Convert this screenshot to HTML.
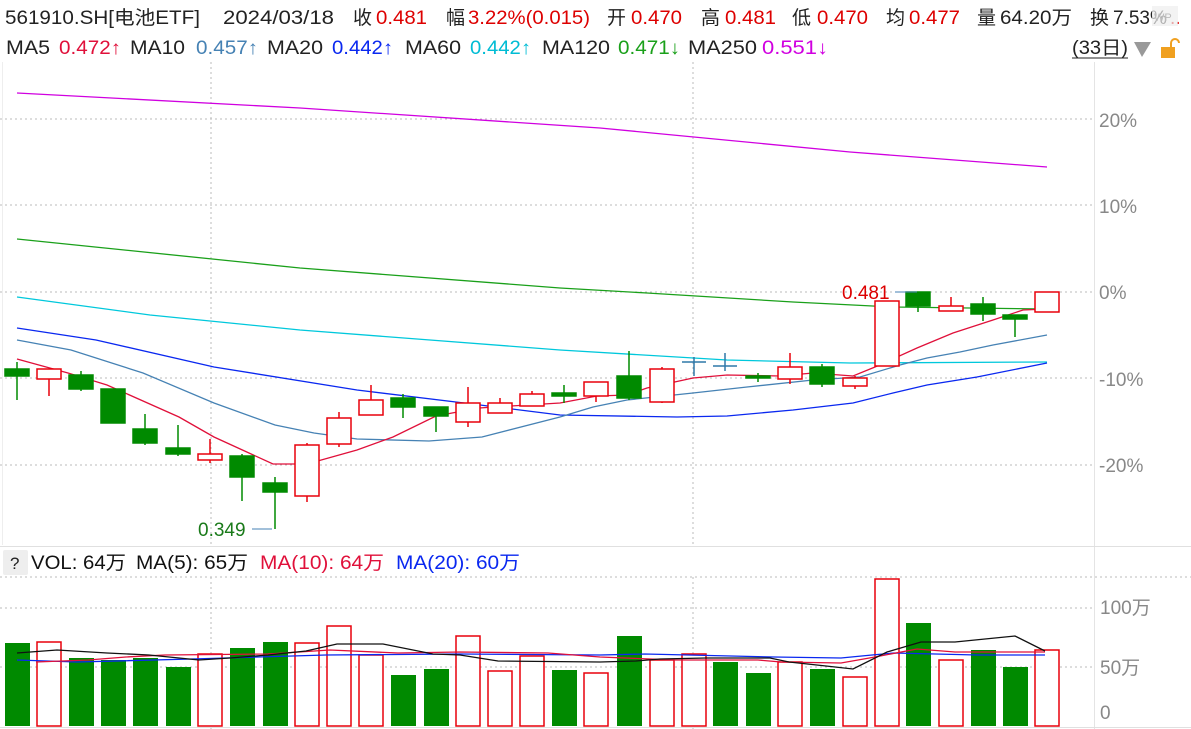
<!DOCTYPE html>
<html><head><meta charset="utf-8"><style>
body{margin:0;background:#fff;width:1191px;height:729px;overflow:hidden}
svg{display:block;font-family:"Liberation Sans","Noto Sans CJK SC",sans-serif}
</style></head><body>
<svg width="1191" height="729" xmlns="http://www.w3.org/2000/svg">
<g font-size="19" fill="#222">
<text x="5" y="24" textLength="195" lengthAdjust="spacingAndGlyphs">561910.SH[电池ETF]</text>
<text x="223" y="24" textLength="111" lengthAdjust="spacingAndGlyphs">2024/03/18</text>
<text x="353" y="24">收</text><text x="376" y="24" fill="#d00" textLength="51" lengthAdjust="spacingAndGlyphs">0.481</text>
<text x="446" y="24">幅</text><text x="468" y="24" fill="#d00" textLength="122" lengthAdjust="spacingAndGlyphs">3.22%(0.015)</text>
<text x="607" y="24">开</text><text x="631" y="24" fill="#d00" textLength="51" lengthAdjust="spacingAndGlyphs">0.470</text>
<text x="701" y="24">高</text><text x="725" y="24" fill="#d00" textLength="51" lengthAdjust="spacingAndGlyphs">0.481</text>
<text x="792" y="24">低</text><text x="817" y="24" fill="#d00" textLength="51" lengthAdjust="spacingAndGlyphs">0.470</text>
<text x="886" y="24">均</text><text x="909" y="24" fill="#d00" textLength="51" lengthAdjust="spacingAndGlyphs">0.477</text>
<text x="977" y="24">量</text><text x="1000" y="24" textLength="72" lengthAdjust="spacingAndGlyphs">64.20万</text>
<text x="1090" y="24">换</text><text x="1113" y="24">7.53%</text><text x="1170" y="24" fill="#d00">..</text>

<text x="6" y="54" textLength="44" lengthAdjust="spacingAndGlyphs">MA5</text>
<text x="59" y="54" fill="#e0103a" textLength="62" lengthAdjust="spacingAndGlyphs">0.472↑</text>
<text x="130" y="54" textLength="55" lengthAdjust="spacingAndGlyphs">MA10</text>
<text x="196" y="54" fill="#4682b4" textLength="62" lengthAdjust="spacingAndGlyphs">0.457↑</text>
<text x="267" y="54" textLength="56" lengthAdjust="spacingAndGlyphs">MA20</text>
<text x="332" y="54" fill="#0a28f0" textLength="61" lengthAdjust="spacingAndGlyphs">0.442↑</text>
<text x="405" y="54" textLength="56" lengthAdjust="spacingAndGlyphs">MA60</text>
<text x="470" y="54" fill="#00bcd4" textLength="61" lengthAdjust="spacingAndGlyphs">0.442↑</text>
<text x="542" y="54" textLength="68" lengthAdjust="spacingAndGlyphs">MA120</text>
<text x="618" y="54" fill="#1aa01a" textLength="62" lengthAdjust="spacingAndGlyphs">0.471↓</text>
<text x="688" y="54" textLength="69" lengthAdjust="spacingAndGlyphs">MA250</text>
<text x="762" y="54" fill="#d000e0" textLength="66" lengthAdjust="spacingAndGlyphs">0.551↓</text>
<text x="1072" y="54" textLength="56" lengthAdjust="spacingAndGlyphs">(33日)</text>
</g>
<line x1="1072" y1="58" x2="1128" y2="58" stroke="#222"/>
<polygon points="1134,42 1151,42 1142,57" fill="#999"/>
<rect x="1161" y="47" width="14" height="11" fill="#f0a020"/>
<path d="M1171 47 v-4 a4 4 0 0 1 8 0" fill="none" stroke="#f0a020" stroke-width="2"/>
<rect x="1152" y="6" width="26" height="20" fill="#eee" opacity="0.7"/>
<text x="1154" y="21" font-size="11" fill="#bbb">WP</text>

<!-- grid -->
<g stroke="#bbb" stroke-dasharray="2,3" stroke-width="1">
<line x1="0" y1="119" x2="1094" y2="119"/><line x1="0" y1="205" x2="1094" y2="205"/>
<line x1="0" y1="292" x2="1094" y2="292"/><line x1="0" y1="378" x2="1094" y2="378"/>
<line x1="0" y1="465" x2="1094" y2="465"/>
<line x1="211" y1="62" x2="211" y2="545"/><line x1="693" y1="62" x2="693" y2="545"/>
<line x1="0" y1="608" x2="1094" y2="608"/><line x1="0" y1="667" x2="1094" y2="667"/>
<line x1="211" y1="577" x2="211" y2="729"/><line x1="693" y1="577" x2="693" y2="729"/>
<line x1="0" y1="577" x2="1191" y2="577"/>
</g>
<line x1="1094.5" y1="62" x2="1094.5" y2="729" stroke="#e4e4e4"/>
<line x1="2.5" y1="62" x2="2.5" y2="545" stroke="#eee"/>
<line x1="0" y1="546.5" x2="1191" y2="546.5" stroke="#e0e0e0"/>
<line x1="0" y1="727.5" x2="1191" y2="727.5" stroke="#e0e0e0"/>
<g font-size="19" fill="#888">
<text x="1099" y="127">20%</text><text x="1099" y="213">10%</text><text x="1099" y="299">0%</text>
<text x="1099" y="386">-10%</text><text x="1099" y="472">-20%</text>
<text x="1100" y="614">100万</text><text x="1100" y="674">50万</text><text x="1100" y="719">0</text>
</g>

<!-- MA lines -->
<g fill="none" stroke-width="1.3">
<polyline stroke="#d000e0" points="17,93 300,108 600,128 850,152 1047,167"/>
<polyline stroke="#1aa01a" points="17,239 300,268 560,288 647,293 793,302 893,307 1047,309"/>
<polyline stroke="#00c8dc" points="17,297 150,315 300,330 430,340 560,350 727,360 850,363 1047,362"/>
<polyline stroke="#0a28f0" points="17,328 96,340 214,367 357,390 464,403 560,415 677,417 727,416 793,410 853,403 893,393 927,385 977,377 1047,363"/>
<polyline stroke="#4682b4" points="17,340 71,350 143,373 214,403 275,425 314,433 357,439 429,441 482,437 560,417 593,407 627,400 693,393 747,387 813,380 860,377 900,365 927,358 960,352 993,345 1047,335"/>
<polyline stroke="#e0103a" points="17,359 68,373 107,385 179,417 214,437 273,464 307,464 357,450 393,437 436,416 479,408 511,406 560,403 597,396 627,395 647,388 693,378 727,375 780,376 813,373 853,376 875,367 917,348 953,333 993,320 1023,310 1047,309"/>
</g>

<!-- candles -->
<g stroke-width="1.5">
<g stroke="#008a00" fill="#008a00">
<line x1="17" y1="362" x2="17" y2="400"/><rect x="5" y="369" width="24" height="7"/>
<line x1="81" y1="371" x2="81" y2="391"/><rect x="69" y="375" width="24" height="14"/>
<rect x="101" y="389" width="24" height="34"/>
<line x1="145" y1="414" x2="145" y2="445"/><rect x="133" y="429" width="24" height="14"/>
<line x1="178" y1="425" x2="178" y2="456"/><rect x="166" y="448" width="24" height="6"/>
<line x1="242" y1="454" x2="242" y2="501"/><rect x="230" y="456" width="24" height="21"/>
<line x1="275" y1="477" x2="275" y2="529"/><rect x="263" y="483" width="24" height="9"/>
<line x1="403" y1="394" x2="403" y2="418"/><rect x="391" y="398" width="24" height="9"/>
<line x1="436" y1="407" x2="436" y2="432"/><rect x="424" y="407" width="24" height="9"/>
<line x1="564" y1="385" x2="564" y2="403"/><rect x="552" y="393" width="24" height="3"/>
<line x1="629" y1="351" x2="629" y2="400"/><rect x="617" y="376" width="24" height="22"/>
<line x1="758" y1="373" x2="758" y2="382"/><rect x="746" y="376" width="24" height="2"/>
<line x1="822" y1="364" x2="822" y2="387"/><rect x="810" y="367" width="24" height="17"/>
<line x1="918" y1="292" x2="918" y2="312"/><rect x="906" y="292" width="24" height="14"/>
<line x1="983" y1="297" x2="983" y2="321"/><rect x="971" y="304" width="24" height="10"/>
<line x1="1015" y1="315" x2="1015" y2="337"/><rect x="1003" y="315" width="24" height="4"/>
</g>
<g stroke="#e8000b" fill="#fff">
<line x1="49" y1="379" x2="49" y2="396"/><rect x="37" y="369" width="24" height="10"/>
<line x1="210" y1="439" x2="210" y2="463"/><rect x="198" y="454" width="24" height="6"/>
<line x1="307" y1="443" x2="307" y2="502"/><rect x="295" y="445" width="24" height="51"/>
<line x1="339" y1="412" x2="339" y2="447"/><rect x="327" y="418" width="24" height="26"/>
<line x1="371" y1="385" x2="371" y2="400"/><rect x="359" y="400" width="24" height="15"/>
<line x1="468" y1="387" x2="468" y2="427"/><rect x="456" y="403" width="24" height="19"/>
<line x1="500" y1="398" x2="500" y2="413"/><rect x="488" y="403" width="24" height="10"/>
<line x1="532" y1="391" x2="532" y2="406"/><rect x="520" y="394" width="24" height="12"/>
<line x1="596" y1="396" x2="596" y2="402"/><rect x="584" y="382" width="24" height="14"/>
<line x1="662" y1="367" x2="662" y2="403"/><rect x="650" y="369" width="24" height="33"/>
<line x1="790" y1="353" x2="790" y2="384"/><rect x="778" y="367" width="24" height="12"/>
<line x1="855" y1="376" x2="855" y2="389"/><rect x="843" y="378" width="24" height="8"/>
<rect x="875" y="301" width="24" height="65"/>
<line x1="951" y1="297" x2="951" y2="306"/><rect x="939" y="306" width="24" height="5"/>
<rect x="1035" y="292" width="24" height="20"/>
</g>
<g stroke="#2f78a8">
<line x1="682" y1="362" x2="706" y2="362"/><line x1="694" y1="357" x2="694" y2="376"/>
<line x1="713" y1="366" x2="737" y2="366"/><line x1="725" y1="353" x2="725" y2="371"/>
</g>
</g>
<text x="198" y="536" font-size="19" fill="#1a7a1a">0.349</text>
<line x1="252" y1="529" x2="272" y2="529" stroke="#4682b4"/>
<text x="842" y="299" font-size="19" fill="#d00">0.481</text>
<line x1="895" y1="292" x2="917" y2="292" stroke="#4682b4"/>

<!-- volume header -->
<rect x="3" y="550" width="25" height="25" rx="2" fill="#eee"/>
<text x="10" y="569" font-size="17" fill="#222">?</text>
<g font-size="19">
<text x="31" y="569" fill="#111" textLength="95" lengthAdjust="spacingAndGlyphs">VOL: 64万</text>
<text x="136" y="569" fill="#111" textLength="112" lengthAdjust="spacingAndGlyphs">MA(5): 65万</text>
<text x="260" y="569" fill="#e0103a" textLength="124" lengthAdjust="spacingAndGlyphs">MA(10): 64万</text>
<text x="396" y="569" fill="#0a28f0" textLength="124" lengthAdjust="spacingAndGlyphs">MA(20): 60万</text>
</g>

<!-- volume bars -->
<g stroke-width="1.5">
<g fill="#008a00">
<rect x="5" y="643" width="25" height="83"/><rect x="69" y="658" width="25" height="68"/>
<rect x="101" y="660" width="25" height="66"/><rect x="133" y="658" width="25" height="68"/>
<rect x="166" y="667" width="25" height="59"/><rect x="230" y="648" width="25" height="78"/>
<rect x="263" y="642" width="25" height="84"/><rect x="391" y="675" width="25" height="51"/>
<rect x="424" y="669" width="25" height="57"/><rect x="552" y="670" width="25" height="56"/>
<rect x="617" y="636" width="25" height="90"/><rect x="713" y="662" width="25" height="64"/>
<rect x="746" y="673" width="25" height="53"/><rect x="810" y="669" width="25" height="57"/>
<rect x="906" y="623" width="25" height="103"/><rect x="971" y="650" width="25" height="76"/>
<rect x="1003" y="667" width="25" height="59"/>
</g>
<g fill="#fff" stroke="#e8000b">
<rect x="37" y="642" width="24" height="84"/><rect x="198" y="654" width="24" height="72"/>
<rect x="295" y="643" width="24" height="83"/><rect x="327" y="626" width="24" height="100"/>
<rect x="359" y="655" width="24" height="71"/><rect x="456" y="636" width="24" height="90"/>
<rect x="488" y="671" width="24" height="55"/><rect x="520" y="656" width="24" height="70"/>
<rect x="584" y="673" width="24" height="53"/><rect x="650" y="660" width="24" height="66"/>
<rect x="682" y="654" width="24" height="72"/><rect x="778" y="662" width="24" height="64"/>
<rect x="843" y="677" width="24" height="49"/><rect x="875" y="579" width="24" height="147"/>
<rect x="939" y="660" width="24" height="66"/><rect x="1035" y="650" width="24" height="76"/>
</g>
</g>
<g fill="none" stroke-width="1.3">
<polyline stroke="#0a28f0" points="17,660 77,662 192,659 326,655 460,654 600,655 645,654 774,657 841,658 872,655 894,653 977,655 1045,655"/>
<polyline stroke="#e0103a" points="36,662 88,660 126,657 165,655 268,654 330,650 398,653 460,652 548,653 600,657 675,660 758,660 781,662 841,663 875,657 917,649 955,652 1045,652"/>
<polyline stroke="#111" points="17,653 57,650 107,653 149,655 199,660 230,658 268,655 306,651 337,644 383,644 433,654 460,655 498,661 600,662 636,661 660,659 706,658 770,658 789,662 826,666 853,669 887,652 921,642 955,642 1015,636 1045,651"/>
</g>
</svg>
</body></html>
